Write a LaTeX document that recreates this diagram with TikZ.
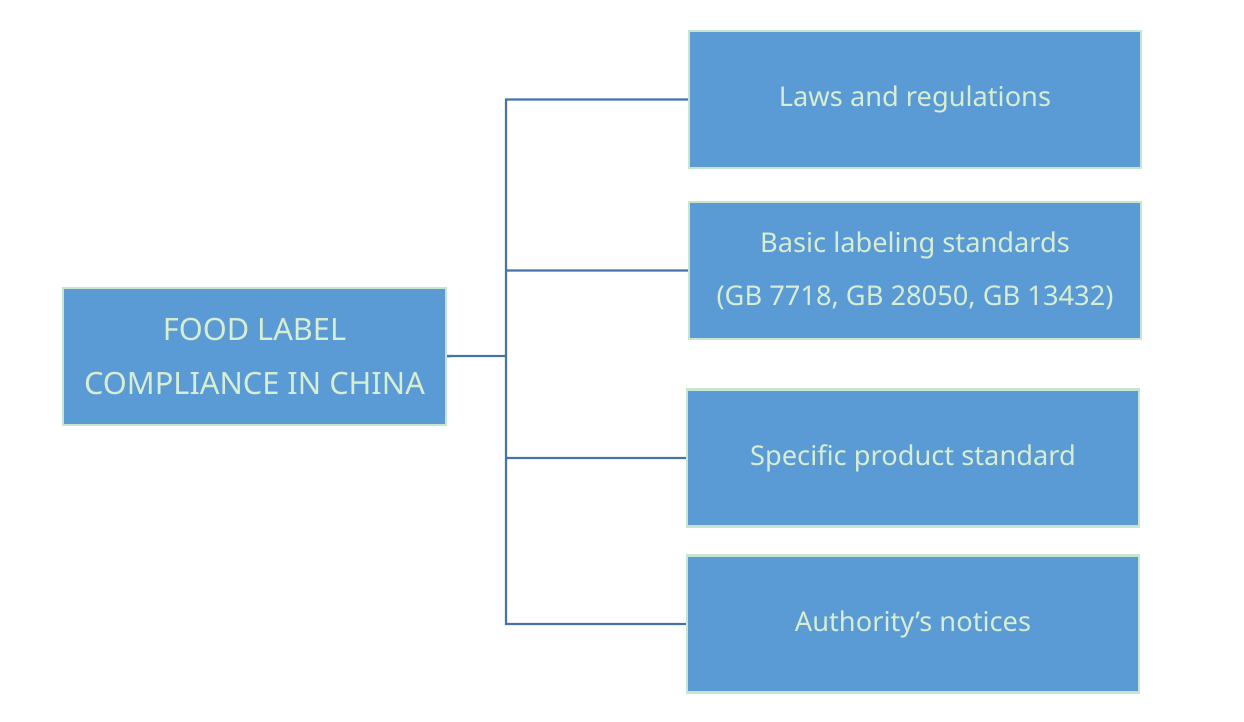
\documentclass[tikz,border=0pt]{standalone}
\usepackage{fontspec}
\setmainfont{Noto Sans}
\usetikzlibrary{positioning}
\definecolor{boxblue}{HTML}{5B9BD5}
\definecolor{boxrim}{HTML}{C8E6CF}
\definecolor{boxtext}{HTML}{D8EED2}
\definecolor{linkblue}{HTML}{4774A8}
\tikzset{box/.style={rectangle, fill=boxblue, draw=boxrim, line width=1.3pt,
  minimum width=9.04cm, minimum height=2.74cm, align=center,
  text=boxtext, font=\fontsize{15.5}{30}\selectfont},
  link/.style={draw=linkblue, line width=1.3pt}}

\begin{document}
\begin{tikzpicture}[x=0.02cm, y=-0.02cm]
        \useasboundingbox (0, 0) rectangle (1244, 722);
        \node[box, minimum width=7.66cm, font=\fontsize{17.5}{31}\selectfont] (food) at (254.5, 356.5) {FOOD LABEL\\COMPLIANCE IN CHINA};
        \node[box] (laws) at (915, 99.5) {Laws and regulations};
        \node[box] (basic) at (915, 270.5) {Basic labeling standards\\(GB 7718, GB 28050, GB 13432)};
        \node[box] (specific) at (913, 458) {Specific product standard};
        \node[box] (notices) at (913, 624) {Authority's notices};
        \coordinate (hub) at (506, 356);
        
        \draw[link] (food) -- (hub)
              (hub) |- (laws)
              (hub) |- (basic)
              (hub) |- (specific)
              (hub) |- (notices);
    \end{tikzpicture}
\end{document}
